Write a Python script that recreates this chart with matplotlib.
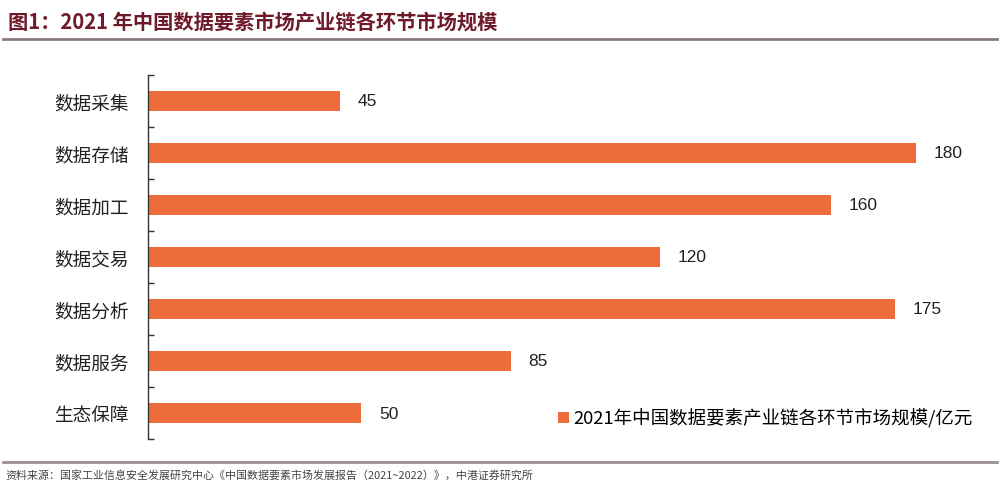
import matplotlib
matplotlib.use("Agg")
import matplotlib.pyplot as plt
from matplotlib.patches import Patch
from matplotlib.lines import Line2D

plt.rcParams['font.family'] = ['Noto Sans CJK SC', 'DejaVu Sans']

categories = ["数据采集", "数据存储", "数据加工", "数据交易", "数据分析", "数据服务", "生态保障"]
values = [45, 180, 160, 120, 175, 85, 50]
series_name = "2021年中国数据要素产业链各环节市场规模/亿元"
title = "图1：2021 年中国数据要素市场产业链各环节市场规模"
source = "资料来源：国家工业信息安全发展研究中心《中国数据要素市场发展报告（2021~2022）》，中港证券研究所"

bar_color = "#ee6b3c"

fig = plt.figure(figsize=(10, 4.89), dpi=100)
ax = fig.add_axes([0.148, 0.1002, 0.832, 0.7444])

y = list(range(len(categories)))
bars = ax.barh(y, values, height=0.37, color=bar_color, label=series_name)
ax.set_yticks(y)
ax.set_yticklabels(categories, fontsize=13.4, color="#222222")
ax.set_ylim(len(categories) - 0.5, -0.5)
ax.set_xlim(0, 195)
ax.bar_label(bars, padding=13, fontsize=12.5, color="#222222",
             family=['Liberation Sans', 'DejaVu Sans'])

ax.tick_params(axis='y', which='major', length=0, pad=14)
ax.set_yticks([i - 0.5 for i in range(len(categories) + 1)], minor=True)
ax.tick_params(axis='y', which='minor', direction='in', length=4, width=1, color="#333333")
ax.set_xticks([])
for s in ["top", "right", "bottom"]:
    ax.spines[s].set_visible(False)
ax.spines["left"].set_color("#333333")
ax.spines["left"].set_linewidth(1)

handle = Patch(facecolor=bar_color, edgecolor='none')
ax.legend([handle], [series_name], loc='lower right', bbox_to_anchor=(1.0, 0.01),
          frameon=False, fontsize=13.3, handlelength=0.55, handleheight=0.55,
          handletextpad=0.25, borderaxespad=0.0)

fig.text(0.008, 0.955, title, fontsize=14.6, fontweight='bold', color="#6e1a2a",
         ha='left', va='center')
fig.add_artist(Line2D([0.003, 0.997], [0.918, 0.918], color="#8a7c7c", lw=2,
                      transform=fig.transFigure))
fig.add_artist(Line2D([0.003, 0.997], [0.053, 0.053], color="#9a8e8e", lw=2,
                      transform=fig.transFigure))
fig.text(0.005, 0.028, source, fontsize=7.9, color="#444444", ha='left', va='center',
         style='italic')

fig.savefig("out.png", dpi=100)
